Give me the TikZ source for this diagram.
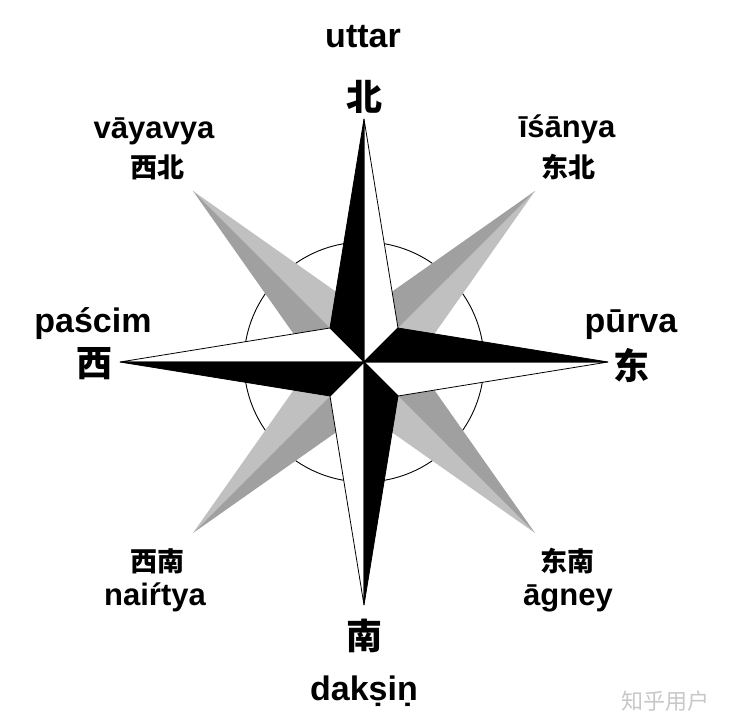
\documentclass[tikz,border=0pt]{standalone}
\usepackage{fontspec}
\setmainfont{Liberation Sans}
\newfontfamily\cjk{Noto Sans CJK SC}
\definecolor{lightg}{RGB}{192,192,192}
\definecolor{darkg}{RGB}{160,160,160}
\definecolor{wmark}{RGB}{200,200,200}
\begin{document}
\begin{tikzpicture}[x=1pt,y=-1pt,
  card/.style={font=\bfseries\fontsize{34}{34}\selectfont, anchor=base, inner sep=0pt},
  diaglbl/.style={font=\bfseries\fontsize{31}{31}\selectfont, anchor=base, inner sep=0pt},
  cjkbig/.style={font=\cjk\bfseries\fontsize{36}{36}\selectfont, inner sep=0pt},
  cjksmall/.style={font=\cjk\bfseries\fontsize{27}{27}\selectfont, inner sep=0pt},
  blackhalf/.style={fill=black, draw=black, line width=0.8pt, line join=miter},
  whitehalf/.style={fill=white, draw=black, line width=0.8pt, line join=miter},
  lighthalf/.style={fill=lightg},
  darkhalf/.style={fill=darkg}]
\fill[white] (0,0) rectangle (728,728);
\useasboundingbox (0,0) rectangle (728,728);
% key points
\coordinate (C) at (364,362);
\coordinate (TN) at (364,119);
\coordinate (TE) at (608,362);
\coordinate (TS) at (364,605);
\coordinate (TW) at (120,362);
\coordinate (VNW) at (330,328);
\coordinate (VNE) at (398,328);
\coordinate (VSE) at (398,396);
\coordinate (VSW) at (330,396);
\coordinate (DNW) at (193,191);
\coordinate (DNE) at (535,191);
\coordinate (DSE) at (535,533);
\coordinate (DSW) at (193,533);
\coordinate (BNE) at (393.7,332.3);
\coordinate (BSE) at (393.7,391.7);
\coordinate (BSW) at (334.3,391.7);
\coordinate (BNW) at (334.3,332.3);
% circle
\draw[line width=0.9pt] (C) circle[radius=120];
% diagonal arms
\fill[lighthalf] (DNW) -- (C) -- (BNE) -- cycle;
\fill[darkhalf]  (DNW) -- (C) -- (BSW) -- cycle;
\fill[lighthalf] (DNE) -- (C) -- (BSE) -- cycle;
\fill[darkhalf]  (DNE) -- (C) -- (BNW) -- cycle;
\fill[lighthalf] (DSE) -- (C) -- (BSW) -- cycle;
\fill[darkhalf]  (DSE) -- (C) -- (BNE) -- cycle;
\fill[lighthalf] (DSW) -- (C) -- (BNW) -- cycle;
\fill[darkhalf]  (DSW) -- (C) -- (BSE) -- cycle;
% cardinal star
\filldraw[whitehalf] (C) -- (TN) -- (VNE) -- cycle;
\filldraw[blackhalf] (C) -- (TN) -- (VNW) -- cycle;
\filldraw[whitehalf] (C) -- (TE) -- (VSE) -- cycle;
\filldraw[blackhalf] (C) -- (TE) -- (VNE) -- cycle;
\filldraw[whitehalf] (C) -- (TS) -- (VSW) -- cycle;
\filldraw[blackhalf] (C) -- (TS) -- (VSE) -- cycle;
\filldraw[whitehalf] (C) -- (TW) -- (VNW) -- cycle;
\filldraw[blackhalf] (C) -- (TW) -- (VSW) -- cycle;
% labels
\node[card] (uttar) at (363,47) {uttar};
\node[cjkbig] (bei) at (364,97) {北};
\node[diaglbl] (vayavya) at (154,138) {vāyavya};
\node[cjksmall] (xibei) at (157,167) {西北};
\node[diaglbl] (isanya) at (567,137) {īśānya};
\node[cjksmall] (dongbei) at (568,167) {东北};
\node[card] (pascim) at (93,332) {paścim};
\node[cjkbig] (xi) at (94,364) {西};
\node[card] (purva) at (631,332) {pūrva};
\node[cjkbig] (dong) at (631,365) {东};
\node[cjkbig] (nan) at (364,636) {南};
\node[card] (daksin) at (364,700) {dakṣiṇ};
\node[cjksmall] (xinan) at (157,561) {西南};
\node[diaglbl] (nairtya) at (155,605) {naiŕtya};
\node[cjksmall] (dongnan) at (567,561) {东南};
\node[diaglbl] (agney) at (568,605) {āgney};
\node[font=\cjk\fontsize{22}{22}\selectfont, text=wmark, inner sep=0pt] (wm) at (665,701) {知乎用户};
\end{tikzpicture}
\end{document}
